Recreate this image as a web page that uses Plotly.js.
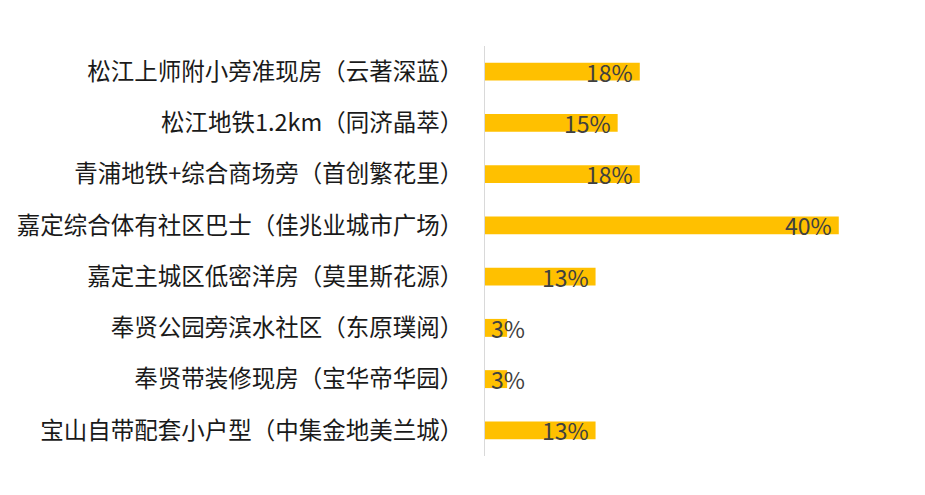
<!DOCTYPE html>
<html>
<head>
<meta charset="utf-8">
<script src="https://cdn.plot.ly/plotly-3.0.1.min.js"></script>
<style>
    html, body { margin: 0; padding: 0; background: #fff; }
    #chart { width: 925px; height: 495px; }
</style>
</head>
<body>
<div id="chart"></div>
<script>
// categories, top to bottom
const categories = [
    "松江上师附小旁准现房（云著深蓝）",
    "松江地铁1.2km（同济晶萃）",
    "青浦地铁+综合商场旁（首创繁花里）",
    "嘉定综合体有社区巴士（佳兆业城市广场）",
    "嘉定主城区低密洋房（莫里斯花源）",
    "奉贤公园旁滨水社区（东原璞阅）",
    "奉贤带装修现房（宝华帝华园）",
    "宝山自带配套小户型（中集金地美兰城）"
];

// share in percent (labels are rounded)
const shares = [17.5, 15, 17.5, 40, 12.5, 2.5, 2.5, 12.5];
const shareLabels = ["18%", "15%", "18%", "40%", "13%", "3%", "3%", "13%"];

const cjkFont = '"Noto Sans CJK SC", "Noto Sans", sans-serif';

function draw() {
    /**
     * Draws the horizontal bar chart.
     */

    let data = [{
        type: "bar",
        orientation: "h",
        x: shares,
        y: categories,
        marker: { color: "#FFC000" },
        hoverinfo: "skip"
    }];

    // value labels at the inner end of each bar, or from the base when the bar is too short
    let annotations = [];
    for (let i = 0; i < shares.length; i++) {
        let small = shares[i] < 5;
        annotations.push({
            x: small ? 0 : shares[i],
            y: categories[i],
            xref: "x",
            yref: "y",
            text: shareLabels[i],
            showarrow: false,
            xanchor: small ? "left" : "right",
            yanchor: "middle",
            xshift: small ? 4 : -5,
            font: { family: cjkFont, size: 23, color: "#404040" }
        });
    }

    let layout = {
        width: 925,
        height: 495,
        paper_bgcolor: "#ffffff",
        plot_bgcolor: "#ffffff",
        showlegend: false,
        bargap: 0.65,
        margin: { l: 485, r: 42, t: 46, b: 39 },
        xaxis: {
            range: [0, 45],
            visible: false,
            showgrid: false,
            zeroline: false,
            fixedrange: true
        },
        yaxis: {
            autorange: "reversed",
            showgrid: false,
            zeroline: false,
            showline: true,
            linecolor: "#d9d9d9",
            linewidth: 1,
            ticks: "",
            ticklabelstandoff: 16,
            tickfont: { family: cjkFont, size: 23.5, color: "#1a1a1a" },
            fixedrange: true
        },
        annotations: annotations
    };

    let config = { displayModeBar: false, staticPlot: true };

    Plotly.newPlot("chart", data, layout, config);
}

draw();
</script>
</body>
</html>
